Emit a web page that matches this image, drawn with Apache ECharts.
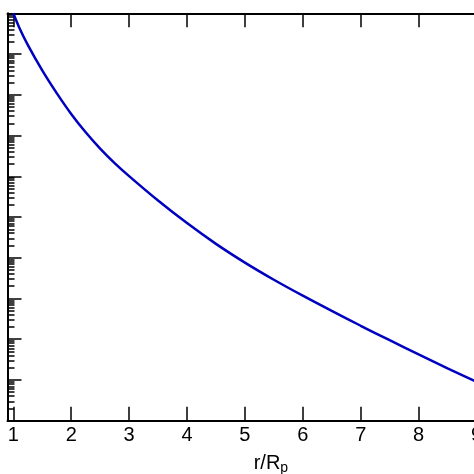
<!DOCTYPE html>
<html>
<head>
<meta charset="utf-8">
<script src="https://cdn.jsdelivr.net/npm/echarts@6/dist/echarts.min.js"></script>
<style>
html,body{margin:0;padding:0;background:#fff;}
#chart{width:474px;height:474px;}
</style>
</head>
<body>
<div id="chart"></div>
<script>
// radius in planetary radii
var rValues = [1, 1.1, 1.25, 1.5, 1.75, 2, 2.25, 2.5, 2.75, 3, 3.5, 4, 4.5, 5, 5.5, 6, 6.5, 7, 7.5, 8, 8.5, 9, 9.1];
// relative quantity (log scale)
var yValues = [1, 0.457, 0.168, 0.0398, 0.0110, 3.39e-3, 1.20e-3, 4.79e-4, 2.11e-4, 1.01e-4, 2.54e-5, 7.08e-6, 2.19e-6, 7.59e-7, 2.88e-7, 1.17e-7, 4.95e-8, 2.14e-8, 9.44e-9, 4.22e-9, 1.93e-9, 9.02e-10, 7.76e-10];
var xTickLabels = ['1','2','3','4','5','6','7','8','9'];
var xName = 'r/R';
var xNameSub = 'p';

var seriesData = rValues.map(function(r, i){ return [r, yValues[i]]; });
var font = 'Liberation Sans';
var axisLineStyle = {color:'#000', width:2};
var tickStyle = {color:'#000', width:1.5};

var chart = echarts.init(document.getElementById('chart'));
chart.setOption({
  animation:false,
  backgroundColor:'#fff',
  grid:{left:7.5, top:13.3, width:474.8, height:407.4, outerBoundsMode:'none', containLabel:false},
  xAxis:[{
    type:'value', min:0.9, max:9.1, splitNumber:8, position:'bottom',
    axisLine:{show:true, lineStyle:axisLineStyle},
    axisTick:{show:true, inside:true, length:14, lineStyle:tickStyle},
    splitLine:{show:false},
    axisLabel:{show:true, color:'#000', fontFamily:font, fontSize:20, margin:5,
      showMinLabel:false, showMaxLabel:false,
      formatter:function(v){ var s = String(v); return xTickLabels.indexOf(s) >= 0 ? s : ''; }},
    name: '{n|' + xName + '}{s|' + xNameSub + '}',
    nameLocation:'middle', nameGap:31,
    nameTextStyle:{padding:[0,0,0,52], rich:{
      n:{fontFamily:font, fontSize:20, color:'#000'},
      s:{fontFamily:font, fontSize:14, color:'#000', verticalAlign:'bottom', padding:[9,0,0,0]}
    }}
  },{
    type:'value', min:0.9, max:9.1, splitNumber:8, position:'top',
    axisLine:{show:true, lineStyle:axisLineStyle},
    axisTick:{show:true, inside:true, length:14, lineStyle:tickStyle},
    splitLine:{show:false},
    axisLabel:{show:false}
  }],
  yAxis:[{
    type:'log', logBase:10, min:1e-10, max:1, interval:1, position:'left',
    axisLine:{show:true, lineStyle:axisLineStyle},
    axisTick:{show:true, inside:true, length:14, lineStyle:tickStyle},
    minorTick:{show:true, splitNumber:9, length:7, lineStyle:tickStyle},
    splitLine:{show:false},
    minorSplitLine:{show:false},
    axisLabel:{show:false}
  }],
  series:[{
    type:'line', xAxisIndex:0, yAxisIndex:0,
    data:seriesData, showSymbol:false, smooth:0.3,
    lineStyle:{color:'#0000c0', width:2.5},
    clip:true
  }]
});
</script>
</body>
</html>
